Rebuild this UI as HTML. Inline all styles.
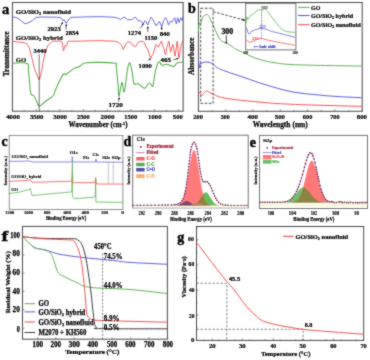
<!DOCTYPE html>
<html><head><meta charset="utf-8"><style>
html,body{margin:0;padding:0;background:#fff;width:370px;height:360px;overflow:hidden}
svg{display:block;font-family:"Liberation Serif",serif}

</style></head><body>
<svg width="370" height="360" viewBox="0 0 370 360">
<defs><filter id="bl" x="-2%" y="-2%" width="104%" height="104%"><feConvolveMatrix order="3" kernelMatrix="1 2 1 2 14 2 1 2 1" divisor="26" edgeMode="duplicate" preserveAlpha="false"/></filter></defs>
<rect width="370" height="360" fill="#fff"/>
<g filter="url(#bl)">
<rect x="12.40" y="2.50" width="170.90" height="108.70" fill="none" stroke="#4a4a4a" stroke-width="1.0"/>
<line x1="183.3" y1="2.5" x2="183.3" y2="111.2" stroke="#888" stroke-width="1.4"/>
<text x="2.00" y="13.90" font-size="14.5" font-weight="bold" fill="#000" stroke="#000" stroke-width="0.450">a</text>
<text x="15.70" y="14.00" font-size="6.7" font-weight="bold" fill="#000" stroke="#000" stroke-width="0.235" textLength="55.30" lengthAdjust="spacingAndGlyphs">GO/SiO<tspan font-size="4.36" dy="1.21">2</tspan><tspan dy="-1.21"> nanofluid</tspan></text>
<text x="15.70" y="40.00" font-size="6.7" font-weight="bold" fill="#000" stroke="#000" stroke-width="0.235" textLength="47.00" lengthAdjust="spacingAndGlyphs">GO/SiO<tspan font-size="4.36" dy="1.21">2</tspan><tspan dy="-1.21"> hybrid</tspan></text>
<text x="15.70" y="61.70" font-size="6.3" font-weight="bold" fill="#000" stroke="#000" stroke-width="0.221" textLength="10.50" lengthAdjust="spacingAndGlyphs">GO</text>
<path d="M12.40,17.10 L16.00,17.30 L20.00,19.80 L25.00,23.80 L29.00,22.50 L32.50,20.50 L36.00,17.50 L40.00,17.00 L55.00,17.20 L60.00,17.50 L61.50,18.30 L63.00,20.80 L64.30,19.80 L66.20,23.40 L68.50,19.80 L70.50,17.40 L85.00,16.90 L100.00,16.60 L115.00,17.30 L117.80,18.30 L120.60,19.40 L122.20,18.30 L123.90,17.20 L126.10,18.30 L127.80,20.00 L130.00,19.40 L131.70,20.00 L133.90,17.80 L135.60,17.20 L137.20,19.40 L138.30,21.10 L140.00,20.60 L142.20,22.20 L143.30,23.90 L145.00,20.60 L146.10,21.70 L147.80,25.00 L149.40,20.60 L151.10,17.20 L152.80,19.40 L154.40,22.60 L156.30,26.00 L158.30,22.60 L159.50,21.50 L161.70,27.00 L163.60,20.60 L165.60,17.70 L167.00,20.20 L168.50,25.00 L170.40,21.10 L171.90,22.10 L173.30,19.70 L174.80,17.70 L176.30,24.00 L177.70,17.70 L179.20,22.60 L180.60,17.70 L182.10,20.60 L183.00,17.20" stroke="#5a5ae0" stroke-width="0.9" fill="none" stroke-linejoin="round" stroke-linecap="round"/>
<path d="M12.40,41.30 L20.00,42.20 L24.00,42.60 L27.00,43.80 L29.00,47.00 L30.00,50.30 L32.00,58.40 L34.00,67.00 L36.50,74.00 L39.30,80.00 L41.50,72.00 L43.50,60.00 L45.00,52.70 L48.00,45.40 L52.00,41.30 L60.00,41.00 L62.30,42.20 L63.50,51.00 L65.00,45.40 L66.50,46.20 L68.00,41.30 L100.00,40.60 L115.00,41.20 L117.00,41.80 L118.30,42.20 L121.70,45.60 L123.30,49.40 L125.60,44.40 L127.80,41.70 L130.60,42.20 L132.80,45.60 L135.60,46.70 L138.30,42.20 L141.70,41.10 L143.90,42.20 L146.10,46.70 L148.30,51.00 L150.60,58.30 L153.30,53.30 L156.10,44.40 L158.30,47.20 L161.40,41.10 L163.90,48.90 L165.60,55.00 L167.20,46.00 L168.90,41.10 L170.60,52.20 L172.80,44.40 L175.00,56.10 L177.20,41.10 L178.90,58.30 L181.10,45.60 L182.80,41.10" stroke="#f55050" stroke-width="0.9" fill="none" stroke-linejoin="round" stroke-linecap="round"/>
<path d="M12.40,63.20 C14.83,63.20 24.32,62.07 27.00,63.20 C29.68,64.33 28.00,65.87 28.50,70.00 C29.00,74.13 29.58,84.00 30.00,88.00 C30.42,92.00 30.33,92.67 31.00,94.00 C31.67,95.33 33.17,95.00 34.00,96.00 C34.83,97.00 35.12,98.33 36.00,100.00 C36.88,101.67 37.63,105.83 39.30,106.00 C40.97,106.17 43.72,102.67 46.00,101.00 C48.28,99.33 51.50,97.67 53.00,96.00 C54.50,94.33 53.83,93.67 55.00,91.00 C56.17,88.33 58.58,82.83 60.00,80.00 C61.42,77.17 62.50,74.92 63.50,74.00 C64.50,73.08 64.25,75.43 66.00,74.50 C67.75,73.57 71.73,69.73 74.00,68.40 C76.27,67.07 77.57,67.45 79.60,66.50 C81.63,65.55 80.50,63.28 86.20,62.70 C91.90,62.12 108.82,62.37 113.80,63.00 C118.78,63.63 115.42,63.23 116.10,66.50 C116.78,69.77 117.43,77.62 117.90,82.60 C118.37,87.58 118.43,95.63 118.90,96.40 C119.37,97.17 120.13,89.50 120.70,87.20 C121.27,84.90 121.80,81.83 122.30,82.60 C122.80,83.37 123.20,91.23 123.70,91.80 C124.20,92.37 124.65,89.83 125.30,86.00 C125.95,82.17 126.83,72.63 127.60,68.80 C128.37,64.97 129.13,62.43 129.90,63.00 C130.67,63.57 131.52,68.75 132.20,72.20 C132.88,75.65 133.05,81.78 134.00,83.70 C134.95,85.62 136.67,83.32 137.90,83.70 C139.13,84.08 140.25,85.23 141.40,86.00 C142.55,86.77 143.65,88.68 144.80,88.30 C145.95,87.92 147.33,84.47 148.30,83.70 C149.27,82.93 149.83,83.32 150.60,83.70 C151.37,84.08 152.13,87.92 152.90,86.00 C153.67,84.08 154.25,76.22 155.20,72.20 C156.15,68.18 157.45,63.05 158.60,61.90 C159.75,60.75 160.75,64.92 162.10,65.30 C163.45,65.68 164.78,64.00 166.70,64.20 C168.62,64.40 171.88,66.70 173.60,66.50 C175.32,66.30 175.43,63.77 177.00,63.00 C178.57,62.23 182.00,62.08 183.00,61.90" stroke="#52ac48" stroke-width="1.05" fill="none" stroke-linejoin="round"/>
<line x1="39.2" y1="54.3" x2="39.2" y2="111.2" stroke="#333" stroke-width="0.7"/>
<text x="33.50" y="53.10" font-size="6.3" font-weight="bold" fill="#000" stroke="#000" stroke-width="0.221" textLength="13.00" lengthAdjust="spacingAndGlyphs">3440</text>
<text x="47.50" y="31.00" font-size="6.6" font-weight="bold" fill="#000" stroke="#000" stroke-width="0.231" textLength="13.20" lengthAdjust="spacingAndGlyphs">2923</text>
<text x="65.40" y="35.00" font-size="6.6" font-weight="bold" fill="#000" stroke="#000" stroke-width="0.231" textLength="13.20" lengthAdjust="spacingAndGlyphs">2854</text>
<text x="127.80" y="34.50" font-size="6.6" font-weight="bold" fill="#000" stroke="#000" stroke-width="0.231" textLength="13.30" lengthAdjust="spacingAndGlyphs">1274</text>
<text x="144.40" y="39.50" font-size="6.6" font-weight="bold" fill="#000" stroke="#000" stroke-width="0.231" textLength="13.10" lengthAdjust="spacingAndGlyphs">1150</text>
<text x="159.70" y="36.30" font-size="6.6" font-weight="bold" fill="#000" stroke="#000" stroke-width="0.231" textLength="10.30" lengthAdjust="spacingAndGlyphs">840</text>
<text x="138.60" y="68.40" font-size="6.6" font-weight="bold" fill="#000" stroke="#000" stroke-width="0.231" textLength="13.30" lengthAdjust="spacingAndGlyphs">1090</text>
<text x="160.60" y="61.70" font-size="6.6" font-weight="bold" fill="#000" stroke="#000" stroke-width="0.231" textLength="10.50" lengthAdjust="spacingAndGlyphs">465</text>
<text x="108.40" y="106.80" font-size="6.6" font-weight="bold" fill="#000" stroke="#000" stroke-width="0.231" textLength="14.60" lengthAdjust="spacingAndGlyphs">1720</text>
<line x1="60" y1="27" x2="62.8" y2="22.3" stroke="#000" stroke-width="0.6"/>
<path d="M62.80,22.30 L62.86,24.30 L61.02,23.20 Z" fill="#000"/>
<line x1="66" y1="29.5" x2="66.2" y2="24.2" stroke="#000" stroke-width="0.6"/>
<path d="M66.20,24.20 L67.21,25.93 L65.07,25.85 Z" fill="#000"/>
<line x1="140.6" y1="28.3" x2="143.3" y2="23.5" stroke="#000" stroke-width="0.6"/>
<path d="M143.30,23.50 L143.41,25.50 L141.54,24.45 Z" fill="#000"/>
<line x1="147.8" y1="32.2" x2="147.8" y2="26.5" stroke="#000" stroke-width="0.6"/>
<path d="M147.80,26.50 L148.87,28.19 L146.73,28.19 Z" fill="#000"/>
<line x1="161.7" y1="30" x2="161.7" y2="27" stroke="#000" stroke-width="0.6"/>
<path d="M161.70,27.00 L162.77,28.69 L160.63,28.69 Z" fill="#000"/>
<line x1="148.3" y1="60.6" x2="150.6" y2="58.5" stroke="#000" stroke-width="0.6"/>
<path d="M150.60,58.50 L150.08,60.43 L148.63,58.85 Z" fill="#000"/>
<line x1="173.3" y1="60" x2="178.3" y2="58.3" stroke="#000" stroke-width="0.6"/>
<path d="M178.30,58.30 L177.05,59.86 L176.36,57.83 Z" fill="#000"/>
<line x1="118.5" y1="101.5" x2="119.3" y2="97.5" stroke="#000" stroke-width="0.6"/>
<path d="M119.30,97.50 L120.02,99.37 L117.92,98.95 Z" fill="#000"/>
<line x1="12.40" y1="111.2" x2="12.40" y2="109.20" stroke="#4a4a4a" stroke-width="0.6"/>
<line x1="24.26" y1="111.2" x2="24.26" y2="109.90" stroke="#4a4a4a" stroke-width="0.6"/>
<line x1="36.11" y1="111.2" x2="36.11" y2="109.20" stroke="#4a4a4a" stroke-width="0.6"/>
<line x1="47.96" y1="111.2" x2="47.96" y2="109.90" stroke="#4a4a4a" stroke-width="0.6"/>
<line x1="59.82" y1="111.2" x2="59.82" y2="109.20" stroke="#4a4a4a" stroke-width="0.6"/>
<line x1="71.68" y1="111.2" x2="71.68" y2="109.90" stroke="#4a4a4a" stroke-width="0.6"/>
<line x1="83.53" y1="111.2" x2="83.53" y2="109.20" stroke="#4a4a4a" stroke-width="0.6"/>
<line x1="95.39" y1="111.2" x2="95.39" y2="109.90" stroke="#4a4a4a" stroke-width="0.6"/>
<line x1="107.24" y1="111.2" x2="107.24" y2="109.20" stroke="#4a4a4a" stroke-width="0.6"/>
<line x1="119.10" y1="111.2" x2="119.10" y2="109.90" stroke="#4a4a4a" stroke-width="0.6"/>
<line x1="130.95" y1="111.2" x2="130.95" y2="109.20" stroke="#4a4a4a" stroke-width="0.6"/>
<line x1="142.81" y1="111.2" x2="142.81" y2="109.90" stroke="#4a4a4a" stroke-width="0.6"/>
<line x1="154.66" y1="111.2" x2="154.66" y2="109.20" stroke="#4a4a4a" stroke-width="0.6"/>
<line x1="166.52" y1="111.2" x2="166.52" y2="109.90" stroke="#4a4a4a" stroke-width="0.6"/>
<line x1="178.37" y1="111.2" x2="178.37" y2="109.20" stroke="#4a4a4a" stroke-width="0.6"/>
<text x="6.20" y="119.30" font-size="6.6" font-weight="bold" fill="#000" stroke="#000" stroke-width="0.231" textLength="13.70" lengthAdjust="spacingAndGlyphs">4000</text>
<text x="29.90" y="119.30" font-size="6.6" font-weight="bold" fill="#000" stroke="#000" stroke-width="0.231" textLength="13.60" lengthAdjust="spacingAndGlyphs">3500</text>
<text x="53.30" y="119.30" font-size="6.6" font-weight="bold" fill="#000" stroke="#000" stroke-width="0.231" textLength="13.70" lengthAdjust="spacingAndGlyphs">3000</text>
<text x="77.00" y="119.30" font-size="6.6" font-weight="bold" fill="#000" stroke="#000" stroke-width="0.231" textLength="12.70" lengthAdjust="spacingAndGlyphs">2500</text>
<text x="100.40" y="119.30" font-size="6.6" font-weight="bold" fill="#000" stroke="#000" stroke-width="0.231" textLength="14.10" lengthAdjust="spacingAndGlyphs">2000</text>
<text x="124.30" y="119.30" font-size="6.6" font-weight="bold" fill="#000" stroke="#000" stroke-width="0.231" textLength="13.00" lengthAdjust="spacingAndGlyphs">1500</text>
<text x="148.00" y="119.30" font-size="6.6" font-weight="bold" fill="#000" stroke="#000" stroke-width="0.231" textLength="13.60" lengthAdjust="spacingAndGlyphs">1000</text>
<text x="172.80" y="119.30" font-size="6.6" font-weight="bold" fill="#000" stroke="#000" stroke-width="0.231" textLength="10.00" lengthAdjust="spacingAndGlyphs">500</text>
<text x="68.60" y="127.10" font-size="7.3" font-weight="bold" fill="#000" stroke="#000" stroke-width="0.250" textLength="59.00" lengthAdjust="spacingAndGlyphs">Wavenumber (cm<tspan font-size="4.5" dy="-2.2">-1</tspan><tspan dy="2.2">)</tspan></text>
<text transform="translate(9.00,76.25) rotate(-90)" x="0" y="0" font-size="7.3" font-weight="bold" fill="#000" stroke="#000" stroke-width="0.250" textLength="45.00" lengthAdjust="spacingAndGlyphs">Transmittance</text>
<rect x="198.40" y="2.50" width="163.80" height="108.80" fill="none" stroke="#4a4a4a" stroke-width="1.0"/>
<text x="188.00" y="13.30" font-size="14.0" font-weight="bold" fill="#000" stroke="#000" stroke-width="0.450">b</text>
<path d="M198.40,31.20 C198.53,30.03 198.95,25.60 199.20,24.20 C199.45,22.80 199.67,22.80 199.90,22.80 C200.13,22.80 200.37,24.43 200.60,24.20 C200.83,23.97 200.95,22.55 201.30,21.40 C201.65,20.25 202.12,18.33 202.70,17.30 C203.27,16.27 204.07,15.67 204.75,15.20 C205.43,14.73 206.23,14.50 206.80,14.50 C207.38,14.50 207.73,14.73 208.20,15.20 C208.67,15.67 208.90,15.92 209.60,17.30 C210.30,18.68 211.47,21.42 212.40,23.50 C213.33,25.58 214.27,27.72 215.20,29.80 C216.13,31.88 217.08,34.27 218.00,36.00 C218.92,37.73 219.67,39.15 220.70,40.20 C221.73,41.25 223.03,41.72 224.20,42.30 C225.37,42.88 226.43,43.02 227.70,43.70 C228.97,44.38 230.42,45.48 231.80,46.40 C233.18,47.32 233.80,48.02 236.00,49.20 C238.20,50.38 241.83,52.03 245.00,53.50 C248.17,54.97 251.67,56.77 255.00,58.00 C258.33,59.23 261.67,60.10 265.00,60.90 C268.33,61.70 270.50,62.18 275.00,62.80 C279.50,63.42 282.83,64.13 292.00,64.60 C301.17,65.07 318.33,65.35 330.00,65.60 C341.67,65.85 356.67,66.02 362.00,66.10" stroke="#5cb252" stroke-width="1.0" fill="none" stroke-linejoin="round"/>
<path d="M198.50,59.90 C198.67,61.25 199.20,67.32 199.50,68.00 C199.80,68.68 200.05,64.78 200.30,64.00 C200.55,63.22 200.55,63.53 201.00,63.30 C201.45,63.07 202.17,62.82 203.00,62.60 C203.83,62.38 204.83,62.02 206.00,62.00 C207.17,61.98 208.83,62.17 210.00,62.50 C211.17,62.83 211.83,63.17 213.00,64.00 C214.17,64.83 215.00,66.33 217.00,67.50 C219.00,68.67 220.33,69.28 225.00,71.00 C229.67,72.72 238.33,75.53 245.00,77.80 C251.67,80.07 257.17,82.27 265.00,84.60 C272.83,86.93 282.83,90.05 292.00,91.80 C301.17,93.55 312.00,94.28 320.00,95.10 C328.00,95.92 333.00,96.27 340.00,96.70 C347.00,97.13 358.33,97.53 362.00,97.70" stroke="#5a5ae0" stroke-width="1.0" fill="none" stroke-linejoin="round"/>
<path d="M198.50,92.20 C198.75,92.33 199.47,92.43 200.00,93.00 C200.53,93.57 201.20,95.43 201.70,95.60 C202.20,95.77 202.27,94.75 203.00,94.00 C203.73,93.25 205.27,91.52 206.10,91.10 C206.93,90.68 206.88,91.02 208.00,91.50 C209.12,91.98 209.97,92.88 212.80,94.00 C215.63,95.12 217.13,96.85 225.00,98.20 C232.87,99.55 248.83,101.08 260.00,102.10 C271.17,103.12 275.00,103.58 292.00,104.30 C309.00,105.02 350.33,106.05 362.00,106.40" stroke="#f55050" stroke-width="1.0" fill="none" stroke-linejoin="round"/>
<rect x="200.7" y="8.25" width="12.4" height="95.1" fill="none" stroke="#222" stroke-width="0.8" stroke-dasharray="2.6,1.6"/>
<line x1="213.1" y1="11.7" x2="243" y2="19.8" stroke="#222" stroke-width="0.8" stroke-dasharray="2.6,1.6"/>
<line x1="241" y1="19.3" x2="245" y2="20.3" stroke="#111" stroke-width="0.8"/>
<path d="M245.00,20.30 L242.91,20.99 L243.48,18.71 Z" fill="#111"/>
<text x="221.40" y="34.00" font-size="7.5" font-weight="bold" fill="#000" stroke="#000" stroke-width="0.250" textLength="11.80" lengthAdjust="spacingAndGlyphs">300</text>
<line x1="226.3" y1="35.3" x2="226.3" y2="43.5" stroke="#000" stroke-width="0.7"/>
<path d="M226.30,43.50 L225.12,41.64 L227.48,41.64 Z" fill="#000"/>
<rect x="245.70" y="3.30" width="50.20" height="46.60" fill="none" stroke="#666" stroke-width="0.9"/>
<path d="M246.50,22.70 C246.55,21.75 246.55,17.55 246.80,17.00 C247.05,16.45 247.52,19.48 248.00,19.40 C248.48,19.32 249.00,17.30 249.70,16.50 C250.40,15.70 251.38,15.18 252.20,14.60 C253.02,14.02 253.80,13.68 254.60,13.00 C255.40,12.32 256.05,11.05 257.00,10.50 C257.95,9.95 259.35,9.73 260.30,9.70 C261.25,9.67 261.90,10.43 262.70,10.30 C263.50,10.17 264.15,8.53 265.10,8.90 C266.05,9.27 267.18,11.02 268.40,12.50 C269.62,13.98 270.92,15.83 272.40,17.80 C273.88,19.77 275.68,22.40 277.30,24.30 C278.92,26.20 280.48,27.98 282.10,29.20 C283.72,30.42 284.83,31.07 287.00,31.60 C289.17,32.13 293.75,32.27 295.10,32.40" stroke="#5cb252" stroke-width="0.8" fill="none" stroke-linejoin="round"/>
<path d="M246.30,27.60 C246.73,28.67 248.07,33.33 248.90,34.00 C249.73,34.67 250.35,32.27 251.30,31.60 C252.25,30.93 253.52,30.40 254.60,30.00 C255.68,29.60 256.73,29.47 257.80,29.20 C258.87,28.93 259.65,28.40 261.00,28.40 C262.35,28.40 264.00,28.67 265.90,29.20 C267.80,29.73 269.70,30.80 272.40,31.60 C275.10,32.40 278.32,33.05 282.10,34.00 C285.88,34.95 292.93,36.75 295.10,37.30" stroke="#5a5ae0" stroke-width="0.8" fill="none" stroke-linejoin="round"/>
<path d="M246.30,39.70 C246.73,40.10 247.78,41.83 248.90,42.10 C250.02,42.37 251.52,41.83 253.00,41.30 C254.48,40.77 256.47,39.43 257.80,38.90 C259.13,38.37 259.65,37.97 261.00,38.10 C262.35,38.23 262.38,38.88 265.90,39.70 C269.42,40.52 277.23,42.05 282.10,43.00 C286.97,43.95 292.93,45.00 295.10,45.40" stroke="#f55050" stroke-width="0.8" fill="none" stroke-linejoin="round"/>
<line x1="261.6" y1="6.5" x2="261.6" y2="24" stroke="#222" stroke-width="0.55" stroke-dasharray="1.6,1.1"/>
<line x1="261.6" y1="24" x2="261.6" y2="40.5" stroke="#4040c0" stroke-width="0.55" stroke-dasharray="1.6,1.1"/>
<text x="261.90" y="8.90" font-size="3.4" font-weight="normal" fill="#222" stroke="#222" stroke-width="0.150" textLength="5.70" lengthAdjust="spacingAndGlyphs">232</text>
<text x="259.40" y="28.40" font-size="3.4" font-weight="normal" fill="#5a5ae0" stroke="#5a5ae0" stroke-width="0.150" textLength="6.50" lengthAdjust="spacingAndGlyphs">227</text>
<text x="252.20" y="39.70" font-size="3.4" font-weight="normal" fill="#f55050" stroke="#f55050" stroke-width="0.150" textLength="6.40" lengthAdjust="spacingAndGlyphs">225</text>
<text x="243.20" y="54.30" font-size="3.2" font-weight="normal" fill="#000" stroke="#000" stroke-width="0.150" textLength="4.90" lengthAdjust="spacingAndGlyphs">200</text>
<text x="292.70" y="54.30" font-size="3.2" font-weight="normal" fill="#000" stroke="#000" stroke-width="0.150" textLength="4.80" lengthAdjust="spacingAndGlyphs">300</text>
<line x1="258.6" y1="46.7" x2="253.8" y2="46.7" stroke="#3030b0" stroke-width="0.6"/>
<path d="M253.80,46.70 L254.98,45.95 L254.98,47.45 Z" fill="#3030b0"/>
<text x="259.40" y="47.90" font-size="3.6" font-weight="bold" fill="#3030c0" stroke="#3030c0" stroke-width="0.150" textLength="16.30" lengthAdjust="spacingAndGlyphs">bule shift</text>
<line x1="297.9" y1="7.4" x2="309.5" y2="7.4" stroke="#5cb252" stroke-width="1.1"/>
<line x1="297.9" y1="15.5" x2="309.5" y2="15.5" stroke="#5a5ae0" stroke-width="1.1"/>
<line x1="297.9" y1="24.7" x2="309.5" y2="24.7" stroke="#f55050" stroke-width="1.1"/>
<text x="311.10" y="9.60" font-size="6.4" font-weight="bold" fill="#000" stroke="#000" stroke-width="0.224" textLength="9.20" lengthAdjust="spacingAndGlyphs">GO</text>
<text x="311.10" y="17.70" font-size="6.4" font-weight="bold" fill="#000" stroke="#000" stroke-width="0.224" textLength="42.10" lengthAdjust="spacingAndGlyphs">GO/SiO<tspan font-size="4.16" dy="1.15">2</tspan><tspan dy="-1.15"> hybrid</tspan></text>
<text x="311.10" y="27.10" font-size="6.4" font-weight="bold" fill="#000" stroke="#000" stroke-width="0.224" textLength="49.70" lengthAdjust="spacingAndGlyphs">GO/SiO<tspan font-size="4.16" dy="1.15">2</tspan><tspan dy="-1.15"> nanofluid</tspan></text>
<text x="193.30" y="118.60" font-size="6.8" font-weight="bold" fill="#000" stroke="#000" stroke-width="0.238" textLength="9.70" lengthAdjust="spacingAndGlyphs">200</text>
<text x="220.80" y="118.60" font-size="6.8" font-weight="bold" fill="#000" stroke="#000" stroke-width="0.238" textLength="9.00" lengthAdjust="spacingAndGlyphs">300</text>
<text x="247.40" y="118.60" font-size="6.8" font-weight="bold" fill="#000" stroke="#000" stroke-width="0.238" textLength="10.60" lengthAdjust="spacingAndGlyphs">400</text>
<text x="274.80" y="118.60" font-size="6.8" font-weight="bold" fill="#000" stroke="#000" stroke-width="0.238" textLength="10.20" lengthAdjust="spacingAndGlyphs">500</text>
<text x="302.80" y="118.60" font-size="6.8" font-weight="bold" fill="#000" stroke="#000" stroke-width="0.238" textLength="9.50" lengthAdjust="spacingAndGlyphs">600</text>
<text x="330.20" y="118.60" font-size="6.8" font-weight="bold" fill="#000" stroke="#000" stroke-width="0.238" textLength="9.50" lengthAdjust="spacingAndGlyphs">700</text>
<text x="356.70" y="118.60" font-size="6.8" font-weight="bold" fill="#000" stroke="#000" stroke-width="0.238" textLength="10.40" lengthAdjust="spacingAndGlyphs">800</text>
<line x1="198.40" y1="111.3" x2="198.40" y2="109.30" stroke="#4a4a4a" stroke-width="0.6"/>
<line x1="212.05" y1="111.3" x2="212.05" y2="110.00" stroke="#4a4a4a" stroke-width="0.6"/>
<line x1="225.70" y1="111.3" x2="225.70" y2="109.30" stroke="#4a4a4a" stroke-width="0.6"/>
<line x1="239.35" y1="111.3" x2="239.35" y2="110.00" stroke="#4a4a4a" stroke-width="0.6"/>
<line x1="253.00" y1="111.3" x2="253.00" y2="109.30" stroke="#4a4a4a" stroke-width="0.6"/>
<line x1="266.65" y1="111.3" x2="266.65" y2="110.00" stroke="#4a4a4a" stroke-width="0.6"/>
<line x1="280.30" y1="111.3" x2="280.30" y2="109.30" stroke="#4a4a4a" stroke-width="0.6"/>
<line x1="293.95" y1="111.3" x2="293.95" y2="110.00" stroke="#4a4a4a" stroke-width="0.6"/>
<line x1="307.60" y1="111.3" x2="307.60" y2="109.30" stroke="#4a4a4a" stroke-width="0.6"/>
<line x1="321.25" y1="111.3" x2="321.25" y2="110.00" stroke="#4a4a4a" stroke-width="0.6"/>
<line x1="334.90" y1="111.3" x2="334.90" y2="109.30" stroke="#4a4a4a" stroke-width="0.6"/>
<line x1="348.55" y1="111.3" x2="348.55" y2="110.00" stroke="#4a4a4a" stroke-width="0.6"/>
<line x1="362.20" y1="111.3" x2="362.20" y2="109.30" stroke="#4a4a4a" stroke-width="0.6"/>
<text x="252.70" y="127.20" font-size="8" font-weight="bold" fill="#000" stroke="#000" stroke-width="0.250" textLength="55.10" lengthAdjust="spacingAndGlyphs">Wavelength (nm)</text>
<text transform="translate(193.80,75.10) rotate(-90)" x="0" y="0" font-size="7.2" font-weight="bold" fill="#000" stroke="#000" stroke-width="0.250" textLength="37.50" lengthAdjust="spacingAndGlyphs">Absorbance</text>
<rect x="9.20" y="135.40" width="113.70" height="74.10" fill="none" stroke="#777" stroke-width="0.8"/>
<text x="1.50" y="145.60" font-size="14" font-weight="bold" fill="#000" stroke="#000" stroke-width="0.450">c</text>
<text x="11.50" y="158.40" font-size="4.3" font-weight="bold" fill="#000" stroke="#000" stroke-width="0.150" textLength="36.50" lengthAdjust="spacingAndGlyphs">GO/SiO<tspan font-size="2.79" dy="0.77">2</tspan><tspan dy="-0.77"> nanofluid</tspan></text>
<text x="11.30" y="178.20" font-size="4.3" font-weight="bold" fill="#000" stroke="#000" stroke-width="0.150" textLength="30.00" lengthAdjust="spacingAndGlyphs">GO/SiO<tspan font-size="2.79" dy="0.77">2</tspan><tspan dy="-0.77"> hybrid</tspan></text>
<text x="11.30" y="190.50" font-size="4.3" font-weight="bold" fill="#000" stroke="#000" stroke-width="0.150" textLength="6.70" lengthAdjust="spacingAndGlyphs">GO</text>
<path d="M9.20,161.30 L22.00,161.30 L26.00,160.90 L30.00,161.20 L33.00,162.00 L72.00,162.00 L72.30,156.70 L72.60,162.00 L95.70,162.00 L96.00,159.00 L96.30,162.00 L122.90,162.20" stroke="#5a5ae0" stroke-width="0.7" fill="none" stroke-linejoin="round" stroke-linecap="round"/>
<path d="M9.20,181.40 L28.00,180.30 L30.50,179.70 L32.00,182.30 L72.00,181.20 L72.40,173.40 L73.00,182.80 L95.00,182.50 L95.60,177.80 L96.50,184.00 L122.90,184.10" stroke="#f55050" stroke-width="0.8" fill="none" stroke-linejoin="round" stroke-linecap="round"/>
<path d="M9.20,193.50 L20.00,192.00 L27.50,189.80 L28.50,190.20 L30.00,188.30 L31.00,191.30 L32.00,195.50 L71.80,191.80 L72.40,162.50 L72.40,196.00 L74.00,198.60 L93.00,197.30 L95.30,196.70 L95.60,177.80 L95.90,202.00 L122.90,202.40" stroke="#5cb252" stroke-width="0.8" fill="none" stroke-linejoin="round" stroke-linecap="round"/>
<line x1="108.3" y1="162" x2="108.3" y2="183.5" stroke="#334" stroke-width="0.5" stroke-dasharray="1.2,1"/>
<line x1="113.3" y1="162" x2="113.3" y2="183.5" stroke="#334" stroke-width="0.5" stroke-dasharray="1.2,1"/>
<text x="69.70" y="153.70" font-size="4.3" font-weight="bold" fill="#000" stroke="#000" stroke-width="0.150" textLength="7.90" lengthAdjust="spacingAndGlyphs">O1s</text>
<text x="82.80" y="159.00" font-size="4.3" font-weight="bold" fill="#000" stroke="#000" stroke-width="0.150" textLength="6.40" lengthAdjust="spacingAndGlyphs">N1s</text>
<text x="92.50" y="156.20" font-size="4.3" font-weight="bold" fill="#000" stroke="#000" stroke-width="0.150" textLength="6.40" lengthAdjust="spacingAndGlyphs">C1s</text>
<text x="102.20" y="159.00" font-size="4.3" font-weight="bold" fill="#000" stroke="#000" stroke-width="0.150" textLength="7.90" lengthAdjust="spacingAndGlyphs">Si2s</text>
<text x="111.80" y="159.00" font-size="4.3" font-weight="bold" fill="#000" stroke="#000" stroke-width="0.150" textLength="8.80" lengthAdjust="spacingAndGlyphs">Si2p</text>
<text x="5.30" y="214.40" font-size="5.0" font-weight="bold" fill="#000" stroke="#000" stroke-width="0.150" textLength="9.00" lengthAdjust="spacingAndGlyphs">1200</text>
<text x="24.00" y="214.40" font-size="5.0" font-weight="bold" fill="#000" stroke="#000" stroke-width="0.150" textLength="9.00" lengthAdjust="spacingAndGlyphs">1000</text>
<text x="43.80" y="214.40" font-size="5.0" font-weight="bold" fill="#000" stroke="#000" stroke-width="0.150" textLength="6.50" lengthAdjust="spacingAndGlyphs">800</text>
<text x="63.50" y="214.40" font-size="5.0" font-weight="bold" fill="#000" stroke="#000" stroke-width="0.150" textLength="7.50" lengthAdjust="spacingAndGlyphs">600</text>
<text x="81.50" y="214.40" font-size="5.0" font-weight="bold" fill="#000" stroke="#000" stroke-width="0.150" textLength="7.50" lengthAdjust="spacingAndGlyphs">400</text>
<text x="101.30" y="214.40" font-size="5.0" font-weight="bold" fill="#000" stroke="#000" stroke-width="0.150" textLength="6.60" lengthAdjust="spacingAndGlyphs">200</text>
<text x="121.20" y="214.40" font-size="5.0" font-weight="bold" fill="#000" stroke="#000" stroke-width="0.150" textLength="2.80" lengthAdjust="spacingAndGlyphs">0</text>
<text x="46.00" y="219.90" font-size="5.5" font-weight="bold" fill="#000" stroke="#000" stroke-width="0.193" textLength="40.20" lengthAdjust="spacingAndGlyphs">Binding Energy (eV)</text>
<text transform="translate(6.70,185.30) rotate(-90)" x="0" y="0" font-size="4.6" font-weight="bold" fill="#000" stroke="#000" stroke-width="0.150" textLength="29.30" lengthAdjust="spacingAndGlyphs">Intensity (a.u.)</text>
<rect x="132.70" y="135.20" width="115.50" height="72.70" fill="none" stroke="#666" stroke-width="0.9"/>
<text x="123.40" y="146.10" font-size="14" font-weight="bold" fill="#000" stroke="#000" stroke-width="0.450">d</text>
<rect x="133.2" y="205.6" width="114.5" height="2" fill="#fbf8e4"/>
<path d="M186.50,205.6 L186.50,205.60 L187.00,205.59 L187.50,205.59 L188.00,205.58 L188.50,205.58 L189.00,205.57 L189.50,205.55 L190.00,205.53 L190.50,205.51 L191.00,205.47 L191.50,205.42 L192.00,205.36 L192.50,205.28 L193.00,205.18 L193.50,205.05 L194.00,204.88 L194.50,204.68 L195.00,204.44 L195.50,204.15 L196.00,203.80 L196.50,203.40 L197.00,202.93 L197.50,202.40 L198.00,201.80 L198.50,201.15 L199.00,200.43 L199.50,199.67 L200.00,198.87 L200.50,198.04 L201.00,197.20 L201.50,196.37 L202.00,195.56 L202.50,194.80 L203.00,194.11 L203.50,193.51 L204.00,193.02 L204.50,192.64 L205.00,192.40 L205.50,192.30 L206.00,192.35 L206.50,192.53 L207.00,192.85 L207.50,193.30 L208.00,193.86 L208.50,194.52 L209.00,195.25 L209.50,196.04 L210.00,196.86 L210.50,197.70 L211.00,198.54 L211.50,199.35 L212.00,200.13 L212.50,200.87 L213.00,201.55 L213.50,202.17 L214.00,202.72 L214.50,203.22 L215.00,203.65 L215.50,204.01 L216.00,204.33 L216.50,204.59 L217.00,204.81 L217.50,204.98 L218.00,205.13 L218.50,205.24 L219.00,205.33 L219.50,205.40 L220.00,205.45 L220.50,205.49 L221.00,205.52 L221.50,205.54 L222.00,205.56 L222.50,205.57 L223.00,205.58 L223.50,205.59 L224.00,205.59 L224.50,205.59 L224.50,205.6 Z" fill="#66bb5a" fill-opacity="1.0"/>
<path d="M171.00,205.6 L171.00,205.60 L171.50,205.60 L172.00,205.59 L172.50,205.59 L173.00,205.59 L173.50,205.58 L174.00,205.57 L174.50,205.56 L175.00,205.54 L175.50,205.51 L176.00,205.47 L176.50,205.42 L177.00,205.36 L177.50,205.27 L178.00,205.17 L178.50,205.04 L179.00,204.88 L179.50,204.69 L180.00,204.47 L180.50,204.22 L181.00,203.93 L181.50,203.62 L182.00,203.29 L182.50,202.95 L183.00,202.60 L183.50,202.26 L184.00,201.94 L184.50,201.65 L185.00,201.40 L185.50,201.20 L186.00,201.07 L186.50,201.01 L187.00,201.01 L187.50,201.09 L188.00,201.24 L188.50,201.44 L189.00,201.70 L189.50,202.00 L190.00,202.33 L190.50,202.67 L191.00,203.02 L191.50,203.36 L192.00,203.69 L192.50,203.99 L193.00,204.27 L193.50,204.52 L194.00,204.73 L194.50,204.91 L195.00,205.07 L195.50,205.19 L196.00,205.29 L196.50,205.37 L197.00,205.43 L197.50,205.48 L198.00,205.51 L198.50,205.54 L199.00,205.56 L199.50,205.57 L200.00,205.58 L200.50,205.59 L201.00,205.59 L201.50,205.60 L202.00,205.60 L202.50,205.60 L202.50,205.6 Z" fill="#6a5090" fill-opacity="1.0"/>
<path d="M182.00,205.6 L182.00,205.60 L182.50,205.60 L183.00,205.60 L183.50,205.59 L184.00,205.59 L184.50,205.59 L185.00,205.58 L185.50,205.57 L186.00,205.56 L186.50,205.54 L187.00,205.51 L187.50,205.48 L188.00,205.43 L188.50,205.38 L189.00,205.31 L189.50,205.22 L190.00,205.12 L190.50,204.99 L191.00,204.85 L191.50,204.69 L192.00,204.51 L192.50,204.32 L193.00,204.11 L193.50,203.90 L194.00,203.69 L194.50,203.49 L195.00,203.30 L195.50,203.13 L196.00,202.99 L196.50,202.89 L197.00,202.82 L197.50,202.80 L198.00,202.82 L198.50,202.89 L199.00,202.99 L199.50,203.13 L200.00,203.30 L200.50,203.49 L201.00,203.69 L201.50,203.90 L202.00,204.11 L202.50,204.32 L203.00,204.51 L203.50,204.69 L204.00,204.85 L204.50,204.99 L205.00,205.12 L205.50,205.22 L206.00,205.31 L206.50,205.38 L207.00,205.43 L207.50,205.48 L208.00,205.51 L208.50,205.54 L209.00,205.56 L209.50,205.57 L210.00,205.58 L210.50,205.59 L211.00,205.59 L211.50,205.59 L212.00,205.60 L212.50,205.60 L213.00,205.60 L213.00,205.6 Z" fill="#f0a860" fill-opacity="0.9"/>
<path d="M173.50,205.6 L173.50,205.57 L174.00,205.56 L174.50,205.55 L175.00,205.52 L175.50,205.49 L176.00,205.45 L176.50,205.39 L177.00,205.32 L177.50,205.22 L178.00,205.08 L178.50,204.91 L179.00,204.69 L179.50,204.40 L180.00,204.04 L180.50,203.59 L181.00,203.04 L181.50,202.37 L182.00,201.55 L182.50,200.58 L183.00,199.43 L183.50,198.09 L184.00,196.54 L184.50,194.77 L185.00,192.77 L185.50,190.55 L186.00,188.10 L186.50,185.44 L187.00,182.59 L187.50,179.58 L188.00,176.44 L188.50,173.23 L189.00,170.00 L189.50,166.80 L190.00,163.71 L190.50,160.78 L191.00,158.09 L191.50,155.71 L192.00,153.68 L192.50,152.08 L193.00,150.93 L193.50,150.26 L194.00,150.11 L194.50,150.47 L195.00,151.33 L195.50,152.67 L196.00,154.45 L196.50,156.62 L197.00,159.14 L197.50,161.93 L198.00,164.93 L198.50,168.07 L199.00,171.29 L199.50,174.52 L200.00,177.71 L200.50,180.80 L201.00,183.75 L201.50,186.53 L202.00,189.10 L202.50,191.46 L203.00,193.60 L203.50,195.50 L204.00,197.18 L204.50,198.65 L205.00,199.91 L205.50,200.99 L206.00,201.90 L206.50,202.65 L207.00,203.28 L207.50,203.78 L208.00,204.19 L208.50,204.52 L209.00,204.78 L209.50,204.98 L210.00,205.14 L210.50,205.26 L211.00,205.35 L211.50,205.42 L212.00,205.47 L212.50,205.51 L213.00,205.53 L213.50,205.55 L214.00,205.57 L214.50,205.58 L214.50,205.6 Z" fill="#ff7a7a" fill-opacity="1.0"/>
<path d="M186.50,205.60 L187.00,205.59 L187.50,205.59 L188.00,205.58 L188.50,205.58 L189.00,205.57 L189.50,205.55 L190.00,205.53 L190.50,205.51 L191.00,205.47 L191.50,205.42 L192.00,205.36 L192.50,205.28 L193.00,205.18 L193.50,205.05 L194.00,204.88 L194.50,204.68 L195.00,204.44 L195.50,204.15 L196.00,203.80 L196.50,203.40 L197.00,202.93 L197.50,202.40 L198.00,201.80 L198.50,201.15 L199.00,200.43 L199.50,199.67 L200.00,198.87 L200.50,198.04 L201.00,197.20 L201.50,196.37 L202.00,195.56 L202.50,194.80 L203.00,194.11 L203.50,195.50 L204.00,197.18 L204.50,198.65 L205.00,199.91 L205.50,200.99 L206.00,201.90 L206.50,202.65 L207.00,203.28 L207.50,203.78 L208.00,204.19 L208.50,204.52 L209.00,204.78 L209.50,204.98 L210.00,205.14 L210.50,205.26 L211.00,205.35 L211.50,205.42 L212.00,205.47 L212.50,205.51 L213.00,205.53 L213.50,205.55 L214.00,205.57 L214.50,205.58 L215.00,205.59 L215.50,205.59 L216.00,205.59 L216.50,205.60 L217.00,205.60 L217.50,205.60 L218.00,205.60 L218.50,205.60 L219.00,205.60 L219.50,205.60 L220.00,205.60 L220.50,205.60 L221.00,205.60 L221.50,205.60 L222.00,205.60 L222.50,205.60 L223.00,205.60 L223.50,205.60 L224.00,205.60 L224.50,205.60 Z" fill="#8c8440"/>
<path d="M171.00,205.60 L171.50,205.60 L172.00,205.59 L172.50,205.59 L173.00,205.59 L173.50,205.58 L174.00,205.57 L174.50,205.56 L175.00,205.54 L175.50,205.51 L176.00,205.47 L176.50,205.42 L177.00,205.36 L177.50,205.27 L178.00,205.17 L178.50,205.04 L179.00,204.88 L179.50,204.69 L180.00,204.47 L180.50,204.22 L181.00,203.93 L181.50,203.62 L182.00,203.29 L182.50,202.95 L183.00,202.60 L183.50,202.26 L184.00,201.94 L184.50,201.65 L185.00,201.40 L185.50,201.20 L186.00,201.07 L186.50,201.01 L187.00,201.01 L187.50,201.09 L188.00,201.24 L188.50,201.44 L189.00,201.70 L189.50,202.00 L190.00,202.33 L190.50,202.67 L191.00,203.02 L191.50,203.36 L192.00,203.69 L192.50,203.99 L193.00,204.27 L193.50,204.52 L194.00,204.73 L194.50,204.91 L195.00,205.07 L195.50,205.19 L196.00,205.29 L196.50,205.37 L197.00,205.43 L197.50,205.48 L198.00,205.51 L198.50,205.54 L199.00,205.56 L199.50,205.57 L200.00,205.58 L200.50,205.59 L201.00,205.59 L201.50,205.60 L202.00,205.60 L202.50,205.60 Z" fill="#7a4a70"/>
<path d="M182.00,205.60 L182.50,205.60 L183.00,205.60 L183.50,205.59 L184.00,205.59 L184.50,205.59 L185.00,205.58 L185.50,205.57 L186.00,205.56 L186.50,205.54 L187.00,205.51 L187.50,205.48 L188.00,205.43 L188.50,205.38 L189.00,205.31 L189.50,205.22 L190.00,205.12 L190.50,204.99 L191.00,204.85 L191.50,204.69 L192.00,204.51 L192.50,204.32 L193.00,204.11 L193.50,203.90 L194.00,203.69 L194.50,203.49 L195.00,203.30 L195.50,203.13 L196.00,202.99 L196.50,202.89 L197.00,202.82 L197.50,202.80 L198.00,202.82 L198.50,202.89 L199.00,202.99 L199.50,203.13 L200.00,203.30 L200.50,203.49 L201.00,203.69 L201.50,203.90 L202.00,204.11 L202.50,204.32 L203.00,204.51 L203.50,204.69 L204.00,204.85 L204.50,204.99 L205.00,205.12 L205.50,205.22 L206.00,205.31 L206.50,205.38 L207.00,205.43 L207.50,205.48 L208.00,205.51 L208.50,205.54 L209.00,205.56 L209.50,205.57 L210.00,205.58 L210.50,205.59 L211.00,205.59 L211.50,205.59 L212.00,205.60 L212.50,205.60 L213.00,205.60 Z" fill="#c08060"/>
<path d="M133.00,205.40 C139.17,205.35 163.10,205.18 170.00,205.10 C176.90,205.02 173.07,205.08 174.40,204.90 C175.73,204.72 176.88,204.48 178.00,204.00 C179.12,203.52 180.03,203.45 181.10,202.00 C182.17,200.55 183.47,198.45 184.40,195.30 C185.33,192.15 185.95,188.10 186.70,183.10 C187.45,178.10 188.17,171.03 188.90,165.30 C189.63,159.57 190.25,152.53 191.10,148.70 C191.95,144.87 193.10,142.58 194.00,142.30 C194.90,142.02 195.87,145.02 196.50,147.00 C197.13,148.98 197.22,150.40 197.80,154.20 C198.38,158.00 199.42,166.08 200.00,169.80 C200.58,173.52 200.75,174.47 201.30,176.50 C201.85,178.53 202.40,181.17 203.30,182.00 C204.20,182.83 205.58,180.95 206.70,181.50 C207.82,182.05 208.90,183.38 210.00,185.30 C211.10,187.22 212.18,190.58 213.30,193.00 C214.42,195.42 215.40,197.93 216.70,199.80 C218.00,201.67 218.88,203.27 221.10,204.20 C223.32,205.13 225.52,205.18 230.00,205.40 C234.48,205.62 245.00,205.48 248.00,205.50" stroke="#6060d8" stroke-width="0.5" fill="none" stroke-linejoin="round"/>
<g fill="#8b1020"><circle cx="133.00" cy="205.40" r="0.8"/><circle cx="137.40" cy="205.37" r="0.8"/><circle cx="140.41" cy="205.34" r="0.8"/><circle cx="143.80" cy="205.32" r="0.8"/><circle cx="147.44" cy="205.29" r="0.8"/><circle cx="151.22" cy="205.26" r="0.8"/><circle cx="155.02" cy="205.23" r="0.8"/><circle cx="158.71" cy="205.20" r="0.8"/><circle cx="162.17" cy="205.17" r="0.8"/><circle cx="165.29" cy="205.15" r="0.8"/><circle cx="167.94" cy="205.12" r="0.8"/><circle cx="171.51" cy="205.08" r="0.8"/><circle cx="173.91" cy="205.05" r="0.8"/><circle cx="175.98" cy="204.63" r="0.8"/><circle cx="178.28" cy="203.89" r="0.8"/><circle cx="180.32" cy="202.86" r="0.8"/><circle cx="181.93" cy="200.78" r="0.8"/><circle cx="183.09" cy="198.72" r="0.8"/><circle cx="184.16" cy="196.07" r="0.8"/><circle cx="184.84" cy="193.65" r="0.8"/><circle cx="185.43" cy="190.89" r="0.8"/><circle cx="185.98" cy="187.79" r="0.8"/><circle cx="186.52" cy="184.33" r="0.8"/><circle cx="186.89" cy="181.81" r="0.8"/><circle cx="187.26" cy="179.02" r="0.8"/><circle cx="187.62" cy="176.02" r="0.8"/><circle cx="187.99" cy="172.92" r="0.8"/><circle cx="188.35" cy="169.80" r="0.8"/><circle cx="188.72" cy="166.76" r="0.8"/><circle cx="189.08" cy="163.84" r="0.8"/><circle cx="189.43" cy="160.83" r="0.8"/><circle cx="189.78" cy="157.78" r="0.8"/><circle cx="190.13" cy="154.83" r="0.8"/><circle cx="190.50" cy="152.10" r="0.8"/><circle cx="190.89" cy="149.72" r="0.8"/><circle cx="191.55" cy="146.91" r="0.8"/><circle cx="192.53" cy="144.17" r="0.8"/><circle cx="194.00" cy="142.30" r="0.8"/><circle cx="195.56" cy="144.30" r="0.8"/><circle cx="196.33" cy="146.49" r="0.8"/><circle cx="196.99" cy="148.90" r="0.8"/><circle cx="197.44" cy="151.75" r="0.8"/><circle cx="197.80" cy="154.20" r="0.8"/><circle cx="198.31" cy="157.72" r="0.8"/><circle cx="198.70" cy="160.56" r="0.8"/><circle cx="199.10" cy="163.51" r="0.8"/><circle cx="199.49" cy="166.33" r="0.8"/><circle cx="199.85" cy="168.78" r="0.8"/><circle cx="200.26" cy="171.45" r="0.8"/><circle cx="200.66" cy="173.78" r="0.8"/><circle cx="201.30" cy="176.50" r="0.8"/><circle cx="202.01" cy="179.18" r="0.8"/><circle cx="202.88" cy="181.44" r="0.8"/><circle cx="204.92" cy="181.86" r="0.8"/><circle cx="207.26" cy="181.84" r="0.8"/><circle cx="208.90" cy="183.59" r="0.8"/><circle cx="210.27" cy="185.81" r="0.8"/><circle cx="211.37" cy="188.28" r="0.8"/><circle cx="212.47" cy="191.05" r="0.8"/><circle cx="213.58" cy="193.61" r="0.8"/><circle cx="214.66" cy="196.02" r="0.8"/><circle cx="215.78" cy="198.29" r="0.8"/><circle cx="217.02" cy="200.26" r="0.8"/><circle cx="218.56" cy="202.35" r="0.8"/><circle cx="220.57" cy="203.95" r="0.8"/><circle cx="222.80" cy="204.75" r="0.8"/><circle cx="225.42" cy="205.14" r="0.8"/><circle cx="227.94" cy="205.30" r="0.8"/><circle cx="231.24" cy="205.45" r="0.8"/><circle cx="234.28" cy="205.50" r="0.8"/><circle cx="237.77" cy="205.52" r="0.8"/><circle cx="241.32" cy="205.52" r="0.8"/><circle cx="244.55" cy="205.51" r="0.8"/><circle cx="247.10" cy="205.50" r="0.8"/></g>
<text x="136.70" y="141.10" font-size="5.6" font-weight="bold" fill="#000" stroke="#000" stroke-width="0.196" textLength="7.90" lengthAdjust="spacingAndGlyphs">C1s</text>
<circle cx="140.7" cy="146.9" r="0.9" fill="#9a1a28"/>
<text x="146.40" y="148.20" font-size="5.6" font-weight="bold" fill="#9a1a28" stroke="#9a1a28" stroke-width="0.196" textLength="27.20" lengthAdjust="spacingAndGlyphs">Experimental</text>
<line x1="136.2" y1="152.7" x2="144.6" y2="152.7" stroke="#7a3a70" stroke-width="0.6"/>
<text x="146.40" y="154.20" font-size="5.6" font-weight="bold" fill="#8a1a30" stroke="#8a1a30" stroke-width="0.196" textLength="11.90" lengthAdjust="spacingAndGlyphs">Fitted</text>
<rect x="136.2" y="157" width="8.4" height="3.50" fill="#f06868"/>
<text x="146.40" y="160.40" font-size="5.6" font-weight="bold" fill="#e83838" stroke="#e83838" stroke-width="0.196" textLength="8.40" lengthAdjust="spacingAndGlyphs">C-O</text>
<rect x="136.2" y="162.8" width="8.4" height="3.50" fill="#5aaa5a"/>
<text x="146.40" y="166.20" font-size="5.6" font-weight="bold" fill="#3a9a3a" stroke="#3a9a3a" stroke-width="0.196" textLength="8.40" lengthAdjust="spacingAndGlyphs">C-C</text>
<rect x="136.2" y="168" width="8.4" height="3.50" fill="#5050b0"/>
<text x="146.40" y="171.40" font-size="5.6" font-weight="bold" fill="#2828c0" stroke="#2828c0" stroke-width="0.196" textLength="8.40" lengthAdjust="spacingAndGlyphs">C=O</text>
<rect x="136.2" y="174.2" width="8.4" height="3.80" fill="#f8b070"/>
<text x="146.40" y="177.90" font-size="5.6" font-weight="bold" fill="#f0a060" stroke="#f0a060" stroke-width="0.196" textLength="8.40" lengthAdjust="spacingAndGlyphs">C-N</text>
<text x="138.50" y="214.70" font-size="5.3" font-weight="bold" fill="#000" stroke="#000" stroke-width="0.150" textLength="6.50" lengthAdjust="spacingAndGlyphs">292</text>
<text x="154.70" y="214.70" font-size="5.3" font-weight="bold" fill="#000" stroke="#000" stroke-width="0.150" textLength="6.80" lengthAdjust="spacingAndGlyphs">290</text>
<text x="170.90" y="214.70" font-size="5.3" font-weight="bold" fill="#000" stroke="#000" stroke-width="0.150" textLength="6.80" lengthAdjust="spacingAndGlyphs">288</text>
<text x="187.20" y="214.70" font-size="5.3" font-weight="bold" fill="#000" stroke="#000" stroke-width="0.150" textLength="6.60" lengthAdjust="spacingAndGlyphs">286</text>
<text x="204.60" y="214.70" font-size="5.3" font-weight="bold" fill="#000" stroke="#000" stroke-width="0.150" textLength="6.50" lengthAdjust="spacingAndGlyphs">284</text>
<text x="220.80" y="214.70" font-size="5.3" font-weight="bold" fill="#000" stroke="#000" stroke-width="0.150" textLength="7.30" lengthAdjust="spacingAndGlyphs">282</text>
<text x="237.00" y="214.70" font-size="5.3" font-weight="bold" fill="#000" stroke="#000" stroke-width="0.150" textLength="7.30" lengthAdjust="spacingAndGlyphs">280</text>
<text x="170.10" y="220.50" font-size="5.6" font-weight="bold" fill="#000" stroke="#000" stroke-width="0.196" textLength="41.80" lengthAdjust="spacingAndGlyphs">Binding Energy (eV)</text>
<text transform="translate(130.40,184.70) rotate(-90)" x="0" y="0" font-size="4.8" font-weight="bold" fill="#000" stroke="#000" stroke-width="0.150" textLength="28.30" lengthAdjust="spacingAndGlyphs">Intensity (a.u.)</text>
<rect x="259.50" y="135.40" width="108.00" height="73.10" fill="none" stroke="#666" stroke-width="0.9"/>
<text x="249.80" y="146.60" font-size="14" font-weight="bold" fill="#000" stroke="#000" stroke-width="0.450">e</text>
<rect x="260" y="203.0" width="107" height="4" fill="#fbf8e4"/>
<path d="M279.00,202.4 L279.00,202.36 L279.50,202.35 L280.00,202.34 L280.50,202.33 L281.00,202.31 L281.50,202.28 L282.00,202.25 L282.50,202.22 L283.00,202.18 L283.50,202.13 L284.00,202.06 L284.50,201.99 L285.00,201.91 L285.50,201.81 L286.00,201.69 L286.50,201.56 L287.00,201.40 L287.50,201.23 L288.00,201.02 L288.50,200.80 L289.00,200.54 L289.50,200.25 L290.00,199.93 L290.50,199.58 L291.00,199.20 L291.50,198.78 L292.00,198.32 L292.50,197.84 L293.00,197.32 L293.50,196.77 L294.00,196.19 L294.50,195.59 L295.00,194.97 L295.50,194.34 L296.00,193.69 L296.50,193.04 L297.00,192.40 L297.50,191.76 L298.00,191.14 L298.50,190.54 L299.00,189.98 L299.50,189.46 L300.00,188.98 L300.50,188.55 L301.00,188.19 L301.50,187.89 L302.00,187.66 L302.50,187.50 L303.00,187.41 L303.50,187.41 L304.00,187.47 L304.50,187.62 L305.00,187.84 L305.50,188.12 L306.00,188.48 L306.50,188.89 L307.00,189.36 L307.50,189.87 L308.00,190.43 L308.50,191.02 L309.00,191.63 L309.50,192.27 L310.00,192.91 L310.50,193.56 L311.00,194.21 L311.50,194.85 L312.00,195.47 L312.50,196.08 L313.00,196.66 L313.50,197.21 L314.00,197.74 L314.50,198.23 L315.00,198.69 L315.50,199.12 L316.00,199.51 L316.50,199.87 L317.00,200.19 L317.50,200.48 L318.00,200.75 L318.50,200.98 L319.00,201.19 L319.50,201.37 L320.00,201.53 L320.50,201.67 L321.00,201.79 L321.50,201.89 L322.00,201.98 L322.50,202.05 L323.00,202.11 L323.50,202.17 L324.00,202.21 L324.50,202.25 L325.00,202.28 L325.50,202.30 L326.00,202.32 L326.50,202.34 L327.00,202.35 L327.50,202.36 L327.50,202.4 Z" fill="#6cc06c"/>
<path d="M291.00,202.4 L291.00,202.29 L291.50,202.26 L292.00,202.21 L292.50,202.15 L293.00,202.08 L293.50,201.98 L294.00,201.86 L294.50,201.72 L295.00,201.53 L295.50,201.31 L296.00,201.04 L296.50,200.72 L297.00,200.33 L297.50,199.87 L298.00,199.32 L298.50,198.69 L299.00,197.96 L299.50,197.12 L300.00,196.17 L300.50,195.10 L301.00,193.90 L301.50,192.57 L302.00,191.11 L302.50,189.53 L303.00,187.83 L303.50,186.01 L304.00,184.10 L304.50,182.10 L305.00,180.05 L305.50,177.95 L306.00,175.84 L306.50,173.76 L307.00,171.72 L307.50,169.76 L308.00,167.92 L308.50,166.23 L309.00,164.72 L309.50,163.41 L310.00,162.34 L310.50,161.53 L311.00,160.98 L311.50,160.72 L312.00,160.75 L312.50,161.07 L313.00,161.67 L313.50,162.53 L314.00,163.65 L314.50,165.00 L315.00,166.55 L315.50,168.28 L316.00,170.14 L316.50,172.12 L317.00,174.17 L317.50,176.26 L318.00,178.37 L318.50,180.46 L319.00,182.51 L319.50,184.49 L320.00,186.38 L320.50,188.18 L321.00,189.86 L321.50,191.41 L322.00,192.85 L322.50,194.15 L323.00,195.32 L323.50,196.37 L324.00,197.30 L324.50,198.12 L325.00,198.83 L325.50,199.44 L326.00,199.96 L326.50,200.41 L327.00,200.79 L327.50,201.10 L328.00,201.36 L328.50,201.57 L329.00,201.75 L329.50,201.89 L330.00,202.00 L330.50,202.09 L331.00,202.16 L331.50,202.22 L332.00,202.26 L332.50,202.30 L332.50,202.4 Z" fill="#ff7878"/>
<path d="M285.50,202.40 L286.00,202.40 L286.50,202.39 L287.00,202.39 L287.50,202.39 L288.00,202.38 L288.50,202.38 L289.00,202.37 L289.50,202.36 L290.00,202.34 L290.50,202.32 L291.00,202.29 L291.50,202.26 L292.00,202.21 L292.50,202.15 L293.00,202.08 L293.50,201.98 L294.00,201.86 L294.50,201.72 L295.00,201.53 L295.50,201.31 L296.00,201.04 L296.50,200.72 L297.00,200.33 L297.50,199.87 L298.00,199.32 L298.50,198.69 L299.00,197.96 L299.50,197.12 L300.00,196.17 L300.50,195.10 L301.00,193.90 L301.50,192.57 L302.00,191.11 L302.50,189.53 L303.00,187.83 L303.50,187.41 L304.00,187.47 L304.50,187.62 L305.00,187.84 L305.50,188.12 L306.00,188.48 L306.50,188.89 L307.00,189.36 L307.50,189.87 L308.00,190.43 L308.50,191.02 L309.00,191.63 L309.50,192.27 L310.00,192.91 L310.50,193.56 L311.00,194.21 L311.50,194.85 L312.00,195.47 L312.50,196.08 L313.00,196.66 L313.50,197.21 L314.00,197.74 L314.50,198.23 L315.00,198.69 L315.50,199.12 L316.00,199.51 L316.50,199.87 L317.00,200.19 L317.50,200.48 L318.00,200.75 L318.50,200.98 L319.00,201.19 L319.50,201.37 L320.00,201.53 L320.50,201.67 L321.00,201.79 L321.50,201.89 L322.00,201.98 L322.50,202.05 L323.00,202.11 L323.50,202.17 L324.00,202.21 L324.50,202.25 L325.00,202.28 L325.50,202.30 L326.00,202.32 L326.50,202.34 L327.00,202.35 L327.50,202.36 L328.00,202.37 L328.50,202.38 L329.00,202.38 L329.50,202.39 Z" fill="#8c8440"/>
<path d="M260.00,202.40 L260.50,202.40 L261.00,202.40 L261.50,202.40 L262.00,202.40 L262.50,202.40 L263.00,202.40 L263.50,202.40 L264.00,202.40 L264.50,202.40 L265.00,202.40 L265.50,202.40 L266.00,202.40 L266.50,202.40 L267.00,202.40 L267.50,202.40 L268.00,202.40 L268.50,202.40 L269.00,202.40 L269.50,202.40 L270.00,202.40 L270.50,202.40 L271.00,202.40 L271.50,202.40 L272.00,202.40 L272.50,202.40 L273.00,202.40 L273.50,202.40 L274.00,202.40 L274.50,202.40 L275.00,202.40 L275.50,202.39 L276.00,202.39 L276.50,202.39 L277.00,202.39 L277.50,202.38 L278.00,202.38 L278.50,202.37 L279.00,202.36 L279.50,202.35 L280.00,202.34 L280.50,202.33 L281.00,202.31 L281.50,202.28 L282.00,202.25 L282.50,202.22 L283.00,202.18 L283.50,202.12 L284.00,202.06 L284.50,201.99 L285.00,201.91 L285.50,201.81 L286.00,201.69 L286.50,201.55 L287.00,201.39 L287.50,201.21 L288.00,201.01 L288.50,200.77 L289.00,200.51 L289.50,200.21 L290.00,199.87 L290.50,199.50 L291.00,199.09 L291.50,198.63 L292.00,198.13 L292.50,197.59 L293.00,196.99 L293.50,196.35 L294.00,195.66 L294.50,194.91 L295.00,194.11 L295.50,193.25 L296.00,192.33 L296.50,191.36 L297.00,190.32 L297.50,189.22 L298.00,188.06 L298.50,186.83 L299.00,185.54 L299.50,184.18 L300.00,182.75 L300.50,181.25 L301.00,179.69 L301.50,178.06 L302.00,176.37 L302.50,174.63 L303.00,172.84 L303.50,171.02 L304.00,169.17 L304.50,167.32 L305.00,165.48 L305.50,163.67 L306.00,161.92 L306.50,160.24 L307.00,158.67 L307.50,157.23 L308.00,155.95 L308.50,154.85 L309.00,153.95 L309.50,153.28 L310.00,152.85 L310.50,152.69 L311.00,152.79 L311.50,153.17 L312.00,153.82 L312.50,154.74 L313.00,155.92 L313.50,157.35 L314.00,158.99 L314.50,160.83 L315.00,162.84 L315.50,164.99 L316.00,167.25 L316.50,169.58 L317.00,171.96 L317.50,174.35 L318.00,176.72 L318.50,179.04 L319.00,181.29 L319.50,183.46 L320.00,185.51 L320.50,187.44 L321.00,189.24 L321.50,190.90 L322.00,192.42 L322.50,193.80 L323.00,195.04 L323.50,196.14 L324.00,197.11 L324.50,197.96 L325.00,198.70 L325.50,199.34 L326.00,199.89 L326.50,200.35 L327.00,200.74 L327.50,201.06 L328.00,201.33 L328.50,201.24 L329.00,201.78 L329.50,201.72 L330.00,202.12 L330.50,202.24 L331.00,201.64 L331.50,201.63 L332.00,202.67 L332.50,202.01 L333.00,202.00 L333.50,202.94 L334.00,202.32 L334.50,202.77 L335.00,202.35 L335.50,202.55 L336.00,201.97 L336.50,202.55 L337.00,202.84 L337.50,202.42 L338.00,202.69 L338.50,202.60 L339.00,201.88 L339.50,202.71 L340.00,202.51 L340.50,202.16 L341.00,201.84 L341.50,202.84 L342.00,202.37 L342.50,202.66 L343.00,202.85 L343.50,202.66 L344.00,202.91 L344.50,202.27 L345.00,202.76 L345.50,202.33 L346.00,202.92 L346.50,202.85 L347.00,201.92 L347.50,201.96 L348.00,202.06 L348.50,202.96 L349.00,202.32 L349.50,202.55 L350.00,202.16 L350.50,202.41 L351.00,202.26 L351.50,202.22 L352.00,202.50 L352.50,202.50 L353.00,202.89 L353.50,202.62 L354.00,202.91 L354.50,202.83 L355.00,202.99 L355.50,202.61 L356.00,202.00 L356.50,202.83 L357.00,202.96 L357.50,202.89 L358.00,202.48 L358.50,202.66 L359.00,202.05 L359.50,202.80 L360.00,202.49 L360.50,202.14 L361.00,201.88 L361.50,202.82 L362.00,202.99 L362.50,201.91 L363.00,202.76 L363.50,202.29 L364.00,201.98 L364.50,202.15 L365.00,202.72 L365.50,202.85 L366.00,201.85 L366.50,202.54 L367.00,201.85" stroke="#5050d0" stroke-width="0.6" fill="none" stroke-linejoin="round" stroke-linecap="round"/>
<g fill="#8b1020"><circle cx="260.00" cy="202.40" r="0.8"/><circle cx="262.50" cy="202.40" r="0.8"/><circle cx="265.00" cy="202.40" r="0.8"/><circle cx="267.50" cy="202.40" r="0.8"/><circle cx="270.00" cy="202.40" r="0.8"/><circle cx="272.50" cy="202.40" r="0.8"/><circle cx="275.00" cy="202.40" r="0.8"/><circle cx="277.50" cy="202.38" r="0.8"/><circle cx="280.00" cy="202.34" r="0.8"/><circle cx="282.50" cy="202.22" r="0.8"/><circle cx="285.00" cy="201.91" r="0.8"/><circle cx="287.50" cy="201.21" r="0.8"/><circle cx="290.00" cy="199.87" r="0.8"/><circle cx="292.00" cy="198.13" r="0.8"/><circle cx="293.50" cy="196.35" r="0.8"/><circle cx="295.00" cy="194.11" r="0.8"/><circle cx="296.50" cy="191.36" r="0.8"/><circle cx="297.50" cy="189.22" r="0.8"/><circle cx="298.50" cy="186.83" r="0.8"/><circle cx="299.50" cy="184.18" r="0.8"/><circle cx="300.50" cy="181.25" r="0.8"/><circle cx="301.50" cy="178.06" r="0.8"/><circle cx="302.50" cy="174.63" r="0.8"/><circle cx="303.50" cy="171.02" r="0.8"/><circle cx="304.50" cy="167.32" r="0.8"/><circle cx="305.50" cy="163.67" r="0.8"/><circle cx="306.50" cy="160.24" r="0.8"/><circle cx="307.50" cy="157.23" r="0.8"/><circle cx="308.50" cy="154.85" r="0.8"/><circle cx="310.00" cy="152.85" r="0.8"/><circle cx="312.00" cy="153.82" r="0.8"/><circle cx="313.00" cy="155.92" r="0.8"/><circle cx="314.00" cy="158.99" r="0.8"/><circle cx="315.00" cy="162.84" r="0.8"/><circle cx="316.00" cy="167.25" r="0.8"/><circle cx="316.50" cy="169.58" r="0.8"/><circle cx="317.00" cy="171.96" r="0.8"/><circle cx="317.50" cy="174.35" r="0.8"/><circle cx="318.00" cy="176.72" r="0.8"/><circle cx="318.50" cy="179.04" r="0.8"/><circle cx="319.00" cy="181.29" r="0.8"/><circle cx="320.00" cy="185.51" r="0.8"/><circle cx="321.00" cy="189.24" r="0.8"/><circle cx="322.00" cy="192.42" r="0.8"/><circle cx="323.00" cy="195.04" r="0.8"/><circle cx="324.00" cy="197.11" r="0.8"/><circle cx="325.50" cy="199.34" r="0.8"/><circle cx="327.50" cy="201.06" r="0.8"/><circle cx="329.50" cy="201.72" r="0.8"/><circle cx="331.50" cy="201.63" r="0.8"/><circle cx="333.00" cy="202.00" r="0.8"/><circle cx="334.50" cy="202.77" r="0.8"/><circle cx="336.50" cy="202.55" r="0.8"/><circle cx="339.00" cy="201.88" r="0.8"/><circle cx="341.00" cy="201.84" r="0.8"/><circle cx="342.50" cy="202.66" r="0.8"/><circle cx="344.50" cy="202.27" r="0.8"/><circle cx="346.50" cy="202.85" r="0.8"/><circle cx="348.50" cy="202.96" r="0.8"/><circle cx="350.50" cy="202.41" r="0.8"/><circle cx="353.00" cy="202.89" r="0.8"/><circle cx="355.50" cy="202.61" r="0.8"/><circle cx="357.50" cy="202.89" r="0.8"/><circle cx="359.50" cy="202.80" r="0.8"/><circle cx="361.50" cy="202.82" r="0.8"/><circle cx="363.00" cy="202.76" r="0.8"/><circle cx="365.00" cy="202.72" r="0.8"/><circle cx="366.50" cy="202.54" r="0.8"/></g>
<text x="262.90" y="141.80" font-size="5" font-weight="bold" fill="#000" stroke="#000" stroke-width="0.150" textLength="9.20" lengthAdjust="spacingAndGlyphs">Si2p</text>
<circle cx="267.2" cy="147.8" r="0.85" fill="#9a1a28"/>
<text x="272.00" y="149.10" font-size="4.0" font-weight="bold" fill="#9a1a28" stroke="#9a1a28" stroke-width="0.150" textLength="21.10" lengthAdjust="spacingAndGlyphs">Experimental</text>
<line x1="262.9" y1="152.6" x2="271.5" y2="152.6" stroke="#4040c0" stroke-width="0.6"/>
<text x="272.00" y="153.70" font-size="4.0" font-weight="bold" fill="#2828b0" stroke="#2828b0" stroke-width="0.150" textLength="9.20" lengthAdjust="spacingAndGlyphs">Fitted</text>
<rect x="262.9" y="155.1" width="8.6" height="4.0" fill="#ff7878"/>
<rect x="262.9" y="159.7" width="8.6" height="4.0" fill="#6cc06c"/>
<text x="272.00" y="158.40" font-size="4.0" font-weight="bold" fill="#e03030" stroke="#e03030" stroke-width="0.150" textLength="12.00" lengthAdjust="spacingAndGlyphs">Si-O-Si</text>
<text x="272.00" y="163.10" font-size="4.0" font-weight="bold" fill="#30a030" stroke="#30a030" stroke-width="0.150" textLength="7.10" lengthAdjust="spacingAndGlyphs">SiOx</text>
<text x="267.70" y="214.90" font-size="5.3" font-weight="bold" fill="#000" stroke="#000" stroke-width="0.150" textLength="6.50" lengthAdjust="spacingAndGlyphs">106</text>
<text x="288.80" y="214.90" font-size="5.3" font-weight="bold" fill="#000" stroke="#000" stroke-width="0.150" textLength="7.30" lengthAdjust="spacingAndGlyphs">104</text>
<text x="310.70" y="214.90" font-size="5.3" font-weight="bold" fill="#000" stroke="#000" stroke-width="0.150" textLength="6.50" lengthAdjust="spacingAndGlyphs">102</text>
<text x="331.90" y="214.90" font-size="5.3" font-weight="bold" fill="#000" stroke="#000" stroke-width="0.150" textLength="7.30" lengthAdjust="spacingAndGlyphs">100</text>
<text x="354.60" y="214.90" font-size="5.3" font-weight="bold" fill="#000" stroke="#000" stroke-width="0.150" textLength="4.20" lengthAdjust="spacingAndGlyphs">98</text>
<text x="293.30" y="220.50" font-size="5.6" font-weight="bold" fill="#000" stroke="#000" stroke-width="0.196" textLength="41.00" lengthAdjust="spacingAndGlyphs">Binding Energy (eV)</text>
<text transform="translate(256.60,184.70) rotate(-90)" x="0" y="0" font-size="4.8" font-weight="bold" fill="#000" stroke="#000" stroke-width="0.150" textLength="28.30" lengthAdjust="spacingAndGlyphs">Intensity (a.u.)</text>
<rect x="22.50" y="226.40" width="144.90" height="112.80" fill="none" stroke="#4a4a4a" stroke-width="1.0"/>
<text x="1.60" y="241.10" font-size="14" font-weight="bold" fill="#000" stroke="#000" stroke-width="0.450" textLength="6.80" lengthAdjust="spacingAndGlyphs">f</text>
<text x="10.30" y="238.00" font-size="7.3" font-weight="bold" fill="#000" stroke="#000" stroke-width="0.250" textLength="9.60" lengthAdjust="spacingAndGlyphs">100</text>
<text x="12.50" y="256.30" font-size="7.3" font-weight="bold" fill="#000" stroke="#000" stroke-width="0.250" textLength="7.40" lengthAdjust="spacingAndGlyphs">80</text>
<text x="12.50" y="274.70" font-size="7.3" font-weight="bold" fill="#000" stroke="#000" stroke-width="0.250" textLength="7.40" lengthAdjust="spacingAndGlyphs">60</text>
<text x="12.50" y="293.70" font-size="7.3" font-weight="bold" fill="#000" stroke="#000" stroke-width="0.250" textLength="7.40" lengthAdjust="spacingAndGlyphs">40</text>
<text x="12.50" y="312.40" font-size="7.3" font-weight="bold" fill="#000" stroke="#000" stroke-width="0.250" textLength="7.40" lengthAdjust="spacingAndGlyphs">20</text>
<text x="16.70" y="331.70" font-size="7.3" font-weight="bold" fill="#000" stroke="#000" stroke-width="0.250" textLength="3.20" lengthAdjust="spacingAndGlyphs">0</text>
<line x1="22.5" y1="236.7" x2="24.5" y2="236.7" stroke="#4a4a4a" stroke-width="0.6"/>
<line x1="22.5" y1="254.9" x2="24.5" y2="254.9" stroke="#4a4a4a" stroke-width="0.6"/>
<line x1="22.5" y1="273.2" x2="24.5" y2="273.2" stroke="#4a4a4a" stroke-width="0.6"/>
<line x1="22.5" y1="291.5" x2="24.5" y2="291.5" stroke="#4a4a4a" stroke-width="0.6"/>
<line x1="22.5" y1="309.8" x2="24.5" y2="309.8" stroke="#4a4a4a" stroke-width="0.6"/>
<line x1="22.5" y1="328.2" x2="24.5" y2="328.2" stroke="#4a4a4a" stroke-width="0.6"/>
<text x="32.50" y="346.80" font-size="7.6" font-weight="bold" fill="#000" stroke="#000" stroke-width="0.250" textLength="10.60" lengthAdjust="spacingAndGlyphs">100</text>
<line x1="37.80" y1="339.2" x2="37.80" y2="337.2" stroke="#4a4a4a" stroke-width="0.6"/>
<text x="50.50" y="346.80" font-size="7.6" font-weight="bold" fill="#000" stroke="#000" stroke-width="0.250" textLength="10.50" lengthAdjust="spacingAndGlyphs">200</text>
<line x1="55.75" y1="339.2" x2="55.75" y2="337.2" stroke="#4a4a4a" stroke-width="0.6"/>
<text x="68.40" y="346.80" font-size="7.6" font-weight="bold" fill="#000" stroke="#000" stroke-width="0.250" textLength="11.60" lengthAdjust="spacingAndGlyphs">300</text>
<line x1="74.20" y1="339.2" x2="74.20" y2="337.2" stroke="#4a4a4a" stroke-width="0.6"/>
<text x="87.40" y="346.80" font-size="7.6" font-weight="bold" fill="#000" stroke="#000" stroke-width="0.250" textLength="10.60" lengthAdjust="spacingAndGlyphs">400</text>
<line x1="92.70" y1="339.2" x2="92.70" y2="337.2" stroke="#4a4a4a" stroke-width="0.6"/>
<text x="106.90" y="346.80" font-size="7.6" font-weight="bold" fill="#000" stroke="#000" stroke-width="0.250" textLength="10.40" lengthAdjust="spacingAndGlyphs">500</text>
<line x1="112.10" y1="339.2" x2="112.10" y2="337.2" stroke="#4a4a4a" stroke-width="0.6"/>
<text x="125.20" y="346.80" font-size="7.6" font-weight="bold" fill="#000" stroke="#000" stroke-width="0.250" textLength="10.40" lengthAdjust="spacingAndGlyphs">600</text>
<line x1="130.40" y1="339.2" x2="130.40" y2="337.2" stroke="#4a4a4a" stroke-width="0.6"/>
<text x="144.00" y="346.80" font-size="7.6" font-weight="bold" fill="#000" stroke="#000" stroke-width="0.250" textLength="10.40" lengthAdjust="spacingAndGlyphs">700</text>
<line x1="149.20" y1="339.2" x2="149.20" y2="337.2" stroke="#4a4a4a" stroke-width="0.6"/>
<text x="162.70" y="346.80" font-size="7.6" font-weight="bold" fill="#000" stroke="#000" stroke-width="0.250" textLength="10.40" lengthAdjust="spacingAndGlyphs">800</text>
<line x1="167.90" y1="339.2" x2="167.90" y2="337.2" stroke="#4a4a4a" stroke-width="0.6"/>
<text x="65.20" y="354.00" font-size="7.0" font-weight="bold" fill="#000" stroke="#000" stroke-width="0.245" textLength="54.20" lengthAdjust="spacingAndGlyphs">Temperature (°C)</text>
<text transform="translate(10.00,313.30) rotate(-90)" x="0" y="0" font-size="7.0" font-weight="bold" fill="#000" stroke="#000" stroke-width="0.245" textLength="62.20" lengthAdjust="spacingAndGlyphs">Residual Weight (%)</text>
<path d="M22.70,236.70 C23.92,237.90 27.95,242.07 30.00,243.90 C32.05,245.73 33.33,246.85 35.00,247.70 C36.67,248.55 37.50,248.37 40.00,249.00 C42.50,249.63 46.67,250.62 50.00,251.50 C53.33,252.38 55.18,253.37 60.00,254.30 C64.82,255.23 72.60,256.32 78.90,257.10 C85.20,257.88 91.50,258.37 97.80,259.00 C104.10,259.63 111.33,260.33 116.70,260.90 C122.07,261.47 121.57,261.83 130.00,262.40 C138.43,262.97 161.08,263.98 167.30,264.30" stroke="#5a5ae0" stroke-width="1.0" fill="none" stroke-linejoin="round"/>
<path d="M22.70,236.70 C23.92,237.92 27.95,242.12 30.00,244.00 C32.05,245.88 32.50,247.03 35.00,248.00 C37.50,248.97 42.67,249.22 45.00,249.80 C47.33,250.38 48.00,250.88 49.00,251.50 C50.00,252.12 50.33,252.42 51.00,253.50 C51.67,254.58 52.25,255.92 53.00,258.00 C53.75,260.08 54.75,263.75 55.50,266.00 C56.25,268.25 56.75,270.08 57.50,271.50 C58.25,272.92 58.92,273.67 60.00,274.50 C61.08,275.33 62.33,275.67 64.00,276.50 C65.67,277.33 67.52,278.32 70.00,279.50 C72.48,280.68 76.47,282.45 78.90,283.60 C81.33,284.75 81.45,285.67 84.60,286.40 C87.75,287.13 90.23,287.48 97.80,288.00 C105.37,288.52 118.38,288.57 130.00,289.50 C141.62,290.43 161.25,292.92 167.50,293.60" stroke="#5cb252" stroke-width="1.0" fill="none" stroke-linejoin="round"/>
<path d="M22.70,236.70 C25.58,236.95 33.78,237.88 40.00,238.20 C46.22,238.52 54.23,238.50 60.00,238.60 C65.77,238.70 71.60,238.53 74.60,238.80 C77.60,239.07 76.85,239.40 78.00,240.20 C79.15,241.00 80.28,241.08 81.50,243.60 C82.72,246.12 84.17,250.43 85.30,255.30 C86.43,260.17 87.32,266.32 88.30,272.80 C89.28,279.28 90.47,288.22 91.20,294.20 C91.93,300.18 92.10,303.65 92.70,308.70 C93.30,313.75 94.10,321.35 94.80,324.50 C95.50,327.65 96.03,326.90 96.90,327.60 C97.77,328.30 88.25,328.50 100.00,328.70 C111.75,328.90 156.17,328.78 167.40,328.80" stroke="#3a3a3a" stroke-width="1.0" fill="none" stroke-linejoin="round"/>
<path d="M22.70,236.70 C25.58,237.02 33.78,238.13 40.00,238.60 C46.22,239.07 55.00,239.27 60.00,239.50 C65.00,239.73 67.72,239.80 70.00,240.00 C72.28,240.20 72.43,239.45 73.70,240.70 C74.97,241.95 76.47,244.75 77.60,247.50 C78.73,250.25 79.70,253.63 80.50,257.20 C81.30,260.77 81.75,264.03 82.40,268.90 C83.05,273.77 83.88,281.22 84.40,286.40 C84.92,291.58 85.15,295.73 85.50,300.00 C85.85,304.27 86.15,309.33 86.50,312.00 C86.85,314.67 87.10,314.93 87.60,316.00 C88.10,317.07 88.55,317.80 89.50,318.40 C90.45,319.00 91.27,319.25 93.30,319.60 C95.33,319.95 89.35,320.07 101.70,320.50 C114.05,320.93 156.45,321.92 167.40,322.20" stroke="#f55050" stroke-width="1.0" fill="none" stroke-linejoin="round"/>
<line x1="102.6" y1="253.4" x2="102.6" y2="339.2" stroke="#333" stroke-width="0.6" stroke-dasharray="2,1.5"/>
<text x="94.10" y="249.00" font-size="7.4" font-weight="bold" fill="#000" stroke="#000" stroke-width="0.250" textLength="17.50" lengthAdjust="spacingAndGlyphs">450°C</text>
<text x="103.80" y="258.90" font-size="7.4" font-weight="bold" fill="#000" stroke="#000" stroke-width="0.250" textLength="18.80" lengthAdjust="spacingAndGlyphs">74.5%</text>
<text x="103.80" y="288.00" font-size="7.4" font-weight="bold" fill="#000" stroke="#000" stroke-width="0.250" textLength="18.80" lengthAdjust="spacingAndGlyphs">44.0%</text>
<text x="103.75" y="320.50" font-size="7.4" font-weight="bold" fill="#000" stroke="#000" stroke-width="0.250" textLength="15.85" lengthAdjust="spacingAndGlyphs">8.9%</text>
<text x="103.75" y="329.80" font-size="7.4" font-weight="bold" fill="#000" stroke="#000" stroke-width="0.250" textLength="15.85" lengthAdjust="spacingAndGlyphs">0.5%</text>
<line x1="24.5" y1="303.7" x2="35.2" y2="303.7" stroke="#5cb252" stroke-width="1"/>
<line x1="24.5" y1="311.9" x2="35.2" y2="311.9" stroke="#5a5ae0" stroke-width="1"/>
<line x1="24.5" y1="322" x2="35.2" y2="322" stroke="#f55050" stroke-width="1"/>
<line x1="24.5" y1="332.5" x2="35.2" y2="332.5" stroke="#3a3a3a" stroke-width="1"/>
<text x="38.50" y="306.10" font-size="7.4" font-weight="bold" fill="#000" stroke="#000" stroke-width="0.250" textLength="10.50" lengthAdjust="spacingAndGlyphs">GO</text>
<text x="38.50" y="314.60" font-size="7.4" font-weight="bold" fill="#000" stroke="#000" stroke-width="0.250" textLength="46.80" lengthAdjust="spacingAndGlyphs">GO/SiO<tspan font-size="4.81" dy="1.33">2</tspan><tspan dy="-1.33"> hybrid</tspan></text>
<text x="38.50" y="324.50" font-size="7.4" font-weight="bold" fill="#000" stroke="#000" stroke-width="0.250" textLength="55.20" lengthAdjust="spacingAndGlyphs">GO/SiO<tspan font-size="4.81" dy="1.33">2</tspan><tspan dy="-1.33"> nanofluid</tspan></text>
<text x="38.50" y="335.00" font-size="7.4" font-weight="bold" fill="#000" stroke="#000" stroke-width="0.250" textLength="47.80" lengthAdjust="spacingAndGlyphs">M2070 + KH560</text>
<rect x="196.50" y="226.50" width="167.20" height="113.90" fill="none" stroke="#4a4a4a" stroke-width="1.0"/>
<text x="177.30" y="241.50" font-size="14" font-weight="bold" fill="#000" stroke="#000" stroke-width="0.450">g</text>
<text x="188.10" y="240.70" font-size="5.8" font-weight="bold" fill="#000" stroke="#000" stroke-width="0.203" textLength="5.70" lengthAdjust="spacingAndGlyphs">80</text>
<text x="188.60" y="266.00" font-size="5.8" font-weight="bold" fill="#000" stroke="#000" stroke-width="0.203" textLength="5.60" lengthAdjust="spacingAndGlyphs">60</text>
<text x="188.90" y="291.90" font-size="5.8" font-weight="bold" fill="#000" stroke="#000" stroke-width="0.203" textLength="5.50" lengthAdjust="spacingAndGlyphs">40</text>
<text x="188.90" y="317.50" font-size="5.8" font-weight="bold" fill="#000" stroke="#000" stroke-width="0.203" textLength="5.50" lengthAdjust="spacingAndGlyphs">20</text>
<text x="191.00" y="342.00" font-size="5.8" font-weight="bold" fill="#000" stroke="#000" stroke-width="0.203" textLength="3.40" lengthAdjust="spacingAndGlyphs">0</text>
<line x1="196.5" y1="239.9" x2="198.5" y2="239.9" stroke="#4a4a4a" stroke-width="0.6"/>
<line x1="196.5" y1="265" x2="198.5" y2="265" stroke="#4a4a4a" stroke-width="0.6"/>
<line x1="196.5" y1="290.1" x2="198.5" y2="290.1" stroke="#4a4a4a" stroke-width="0.6"/>
<line x1="196.5" y1="315.2" x2="198.5" y2="315.2" stroke="#4a4a4a" stroke-width="0.6"/>
<line x1="196.5" y1="327.85" x2="197.7" y2="327.85" stroke="#4a4a4a" stroke-width="0.5"/>
<line x1="196.5" y1="302.75" x2="197.7" y2="302.75" stroke="#4a4a4a" stroke-width="0.5"/>
<line x1="196.5" y1="277.65" x2="197.7" y2="277.65" stroke="#4a4a4a" stroke-width="0.5"/>
<line x1="196.5" y1="252.55" x2="197.7" y2="252.55" stroke="#4a4a4a" stroke-width="0.5"/>
<line x1="196.5" y1="227.45" x2="197.7" y2="227.45" stroke="#4a4a4a" stroke-width="0.5"/>
<text x="208.90" y="348.20" font-size="6.0" font-weight="bold" fill="#000" stroke="#000" stroke-width="0.210" textLength="6.70" lengthAdjust="spacingAndGlyphs">20</text>
<line x1="212.25" y1="340.4" x2="212.25" y2="338.4" stroke="#4a4a4a" stroke-width="0.6"/>
<text x="238.90" y="348.20" font-size="6.0" font-weight="bold" fill="#000" stroke="#000" stroke-width="0.210" textLength="6.70" lengthAdjust="spacingAndGlyphs">30</text>
<line x1="242.25" y1="340.4" x2="242.25" y2="338.4" stroke="#4a4a4a" stroke-width="0.6"/>
<text x="270.50" y="348.20" font-size="6.0" font-weight="bold" fill="#000" stroke="#000" stroke-width="0.210" textLength="5.60" lengthAdjust="spacingAndGlyphs">40</text>
<line x1="273.30" y1="340.4" x2="273.30" y2="338.4" stroke="#4a4a4a" stroke-width="0.6"/>
<text x="299.60" y="348.20" font-size="6.0" font-weight="bold" fill="#000" stroke="#000" stroke-width="0.210" textLength="6.40" lengthAdjust="spacingAndGlyphs">50</text>
<line x1="302.80" y1="340.4" x2="302.80" y2="338.4" stroke="#4a4a4a" stroke-width="0.6"/>
<text x="330.20" y="348.20" font-size="6.0" font-weight="bold" fill="#000" stroke="#000" stroke-width="0.210" textLength="6.30" lengthAdjust="spacingAndGlyphs">60</text>
<line x1="333.35" y1="340.4" x2="333.35" y2="338.4" stroke="#4a4a4a" stroke-width="0.6"/>
<text x="360.40" y="348.20" font-size="6.0" font-weight="bold" fill="#000" stroke="#000" stroke-width="0.210" textLength="6.30" lengthAdjust="spacingAndGlyphs">70</text>
<line x1="363.55" y1="340.4" x2="363.55" y2="338.4" stroke="#4a4a4a" stroke-width="0.6"/>
<line x1="204.10" y1="340.4" x2="204.10" y2="339.2" stroke="#4a4a4a" stroke-width="0.5"/>
<line x1="219.30" y1="340.4" x2="219.30" y2="339.2" stroke="#4a4a4a" stroke-width="0.5"/>
<line x1="234.50" y1="340.4" x2="234.50" y2="339.2" stroke="#4a4a4a" stroke-width="0.5"/>
<line x1="249.70" y1="340.4" x2="249.70" y2="339.2" stroke="#4a4a4a" stroke-width="0.5"/>
<line x1="264.90" y1="340.4" x2="264.90" y2="339.2" stroke="#4a4a4a" stroke-width="0.5"/>
<line x1="280.10" y1="340.4" x2="280.10" y2="339.2" stroke="#4a4a4a" stroke-width="0.5"/>
<line x1="295.30" y1="340.4" x2="295.30" y2="339.2" stroke="#4a4a4a" stroke-width="0.5"/>
<line x1="310.50" y1="340.4" x2="310.50" y2="339.2" stroke="#4a4a4a" stroke-width="0.5"/>
<line x1="325.70" y1="340.4" x2="325.70" y2="339.2" stroke="#4a4a4a" stroke-width="0.5"/>
<line x1="340.90" y1="340.4" x2="340.90" y2="339.2" stroke="#4a4a4a" stroke-width="0.5"/>
<line x1="356.10" y1="340.4" x2="356.10" y2="339.2" stroke="#4a4a4a" stroke-width="0.5"/>
<text x="261.20" y="356.20" font-size="7.0" font-weight="bold" fill="#000" stroke="#000" stroke-width="0.245" textLength="49.10" lengthAdjust="spacingAndGlyphs">Temperature (°C)</text>
<text transform="translate(186.00,297.40) rotate(-90)" x="0" y="0" font-size="6.2" font-weight="bold" fill="#000" stroke="#000" stroke-width="0.217" textLength="41.10" lengthAdjust="spacingAndGlyphs">Viscosity (Pa·s)</text>
<path d="M196.5,283.3 H226.8 V340.4 M196.5,329.3 H303.1 V340.4" stroke="#555" stroke-width="0.7" fill="none" stroke-dasharray="2.4,1.6"/>
<path d="M196.50,242.20 C199.22,245.80 207.95,257.50 212.80,263.80 C217.65,270.10 222.18,275.82 225.60,280.00 C229.02,284.18 230.90,285.93 233.30,288.90 C235.70,291.87 237.77,294.83 240.00,297.80 C242.23,300.77 244.48,304.12 246.70,306.70 C248.92,309.28 251.08,311.22 253.30,313.30 C255.52,315.38 258.05,317.78 260.00,319.20 C261.95,320.62 261.67,320.75 265.00,321.80 C268.33,322.85 273.67,324.25 280.00,325.50 C286.33,326.75 294.67,328.27 303.00,329.30 C311.33,330.33 319.92,330.88 330.00,331.70 C340.08,332.52 357.92,333.78 363.50,334.20" stroke="#f55050" stroke-width="1.0" fill="none" stroke-linejoin="round"/>
<text x="228.90" y="280.90" font-size="6.3" font-weight="bold" fill="#000" stroke="#000" stroke-width="0.221" textLength="11.30" lengthAdjust="spacingAndGlyphs">45.5</text>
<text x="304.70" y="327.00" font-size="6.2" font-weight="bold" fill="#000" stroke="#000" stroke-width="0.217" textLength="7.80" lengthAdjust="spacingAndGlyphs">8.8</text>
<line x1="283.2" y1="236.3" x2="293.5" y2="236.3" stroke="#f03c3c" stroke-width="1"/>
<text x="295.50" y="238.80" font-size="6.3" font-weight="bold" fill="#000" stroke="#000" stroke-width="0.221" textLength="52.70" lengthAdjust="spacingAndGlyphs">GO/SiO<tspan font-size="4.09" dy="1.13">2</tspan><tspan dy="-1.13"> nanofluid</tspan></text>
</g>
</svg></body></html>
